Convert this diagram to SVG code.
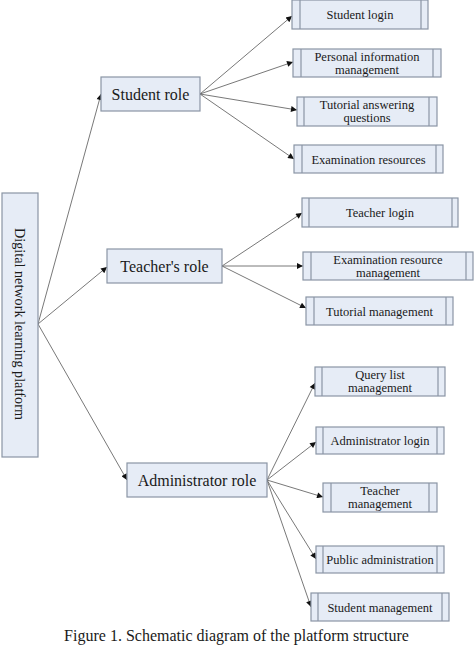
<svg xmlns="http://www.w3.org/2000/svg" width="474" height="647" viewBox="0 0 474 647">
<style>
.box{fill:#e6ecf6;stroke:#8a95a5;stroke-width:1.2}
.div{stroke:#8a95a5;stroke-width:1.2}
.t{font-family:"Liberation Serif","Times New Roman",serif;fill:#1a1a1a;text-anchor:middle}
.r{font-size:16px}
.c{font-size:12.5px}
.ln{stroke:#555;stroke-width:0.8;fill:none;marker-end:url(#ah)}
</style>
<defs>
<marker id="ah" viewBox="0 0 10 10" refX="10" refY="5" markerWidth="8" markerHeight="6" markerUnits="userSpaceOnUse" orient="auto">
<path d="M0,0 L10,5 L0,10 Z" fill="#111"/>
</marker>
</defs>
<rect width="474" height="647" fill="#fff"/>
<g id="connectors">
<line class="ln" x1="38" y1="324" x2="101" y2="94"/>
<line class="ln" x1="38" y1="324" x2="107" y2="267"/>
<line class="ln" x1="38" y1="324" x2="127" y2="480"/>
<line class="ln" x1="200" y1="94" x2="292" y2="16"/>
<line class="ln" x1="200" y1="94" x2="293" y2="62"/>
<line class="ln" x1="200" y1="94" x2="297" y2="110"/>
<line class="ln" x1="200" y1="94" x2="294" y2="159"/>
<line class="ln" x1="222" y1="266" x2="302" y2="213"/>
<line class="ln" x1="222" y1="266" x2="303" y2="266"/>
<line class="ln" x1="222" y1="266" x2="306" y2="308"/>
<line class="ln" x1="267" y1="480" x2="315" y2="383"/>
<line class="ln" x1="267" y1="480" x2="316" y2="442"/>
<line class="ln" x1="267" y1="480" x2="323" y2="497"/>
<line class="ln" x1="267" y1="480" x2="316" y2="559"/>
<line class="ln" x1="267" y1="480" x2="311" y2="607"/>
</g>
<g id="root">
<rect class="box" x="2" y="193" width="36" height="264"/>
<text class="t" font-size="14.2" transform="translate(20,324) rotate(90)" dominant-baseline="central">Digital network learning platform</text>
</g>
<g id="student-role">
<rect class="box" x="101" y="77" width="99" height="34"/>
<text class="t r" x="150.5" y="99.5">Student role</text>
</g>
<g id="teacher-role">
<rect class="box" x="107" y="249" width="115" height="34"/>
<text class="t r" x="164.5" y="271.5">Teacher's role</text>
</g>
<g id="admin-role">
<rect class="box" x="127" y="463" width="140" height="34"/>
<text class="t r" x="197" y="485.5">Administrator role</text>
</g>
<g id="student-login">
<rect class="box" x="292" y="0" width="136" height="29"/>
<line class="div" x1="300" y1="0" x2="300" y2="29"/><line class="div" x1="421" y1="0" x2="421" y2="29"/>
<text class="t c" x="360" y="19">Student login</text>
</g>
<g id="personal-info">
<rect class="box" x="293" y="49" width="148" height="28"/>
<line class="div" x1="301" y1="49" x2="301" y2="77"/><line class="div" x1="433" y1="49" x2="433" y2="77"/>
<text class="t c" x="367" y="61">Personal information</text>
<text class="t c" x="367" y="74">management</text>
</g>
<g id="tutorial-answering">
<rect class="box" x="297" y="97" width="140" height="29"/>
<line class="div" x1="304" y1="97" x2="304" y2="126"/><line class="div" x1="429" y1="97" x2="429" y2="126"/>
<text class="t c" x="367" y="108.5">Tutorial answering</text>
<text class="t c" x="367" y="122">questions</text>
</g>
<g id="exam-resources">
<rect class="box" x="294" y="145" width="149" height="28"/>
<line class="div" x1="302" y1="145" x2="302" y2="173"/><line class="div" x1="436" y1="145" x2="436" y2="173"/>
<text class="t c" x="368.5" y="163.5">Examination resources</text>
</g>
<g id="teacher-login">
<rect class="box" x="302" y="198" width="156" height="29"/>
<line class="div" x1="309" y1="198" x2="309" y2="227"/><line class="div" x1="452" y1="198" x2="452" y2="227"/>
<text class="t c" x="380" y="217">Teacher login</text>
</g>
<g id="exam-resource-mgmt">
<rect class="box" x="303" y="252" width="170" height="28"/>
<line class="div" x1="311" y1="252" x2="311" y2="280"/><line class="div" x1="466" y1="252" x2="466" y2="280"/>
<text class="t c" x="388" y="264">Examination resource</text>
<text class="t c" x="388" y="277">management</text>
</g>
<g id="tutorial-mgmt">
<rect class="box" x="306" y="297" width="147" height="28"/>
<line class="div" x1="314" y1="297" x2="314" y2="325"/><line class="div" x1="446" y1="297" x2="446" y2="325"/>
<text class="t c" x="379.5" y="315.5">Tutorial management</text>
</g>
<g id="query-list">
<rect class="box" x="315" y="367" width="130" height="29"/>
<line class="div" x1="322" y1="367" x2="322" y2="396"/><line class="div" x1="438" y1="367" x2="438" y2="396"/>
<text class="t c" x="380" y="379">Query list</text>
<text class="t c" x="380" y="392">management</text>
</g>
<g id="admin-login">
<rect class="box" x="316" y="427" width="128" height="27"/>
<line class="div" x1="323" y1="427" x2="323" y2="454"/><line class="div" x1="437" y1="427" x2="437" y2="454"/>
<text class="t c" x="380" y="445">Administrator login</text>
</g>
<g id="teacher-mgmt">
<rect class="box" x="323" y="483" width="114" height="29"/>
<line class="div" x1="331" y1="483" x2="331" y2="512"/><line class="div" x1="429" y1="483" x2="429" y2="512"/>
<text class="t c" x="380" y="494.5">Teacher</text>
<text class="t c" x="380" y="508">management</text>
</g>
<g id="public-admin">
<rect class="box" x="316" y="546" width="128" height="27"/>
<line class="div" x1="323" y1="546" x2="323" y2="573"/><line class="div" x1="437" y1="546" x2="437" y2="573"/>
<text class="t c" x="380" y="564">Public administration</text>
</g>
<g id="student-mgmt">
<rect class="box" x="311" y="593" width="138" height="28"/>
<line class="div" x1="318" y1="593" x2="318" y2="621"/><line class="div" x1="442" y1="593" x2="442" y2="621"/>
<text class="t c" x="380" y="611.5">Student management</text>
</g>
<text class="t" font-size="16" x="236.5" y="641">Figure 1. Schematic diagram of the platform structure</text>
</svg>
